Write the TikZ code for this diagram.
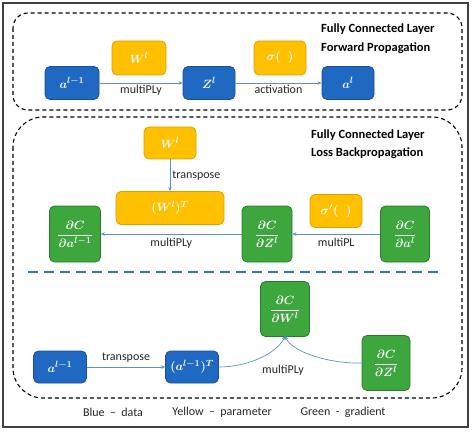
\documentclass[tikz,border=0pt]{standalone}
\usepackage{fontspec}
\usepackage{amsmath}
\setmainfont{Carlito}
\usetikzlibrary{arrows.meta}
\definecolor{bfill}{HTML}{1F69C2}
\definecolor{bdraw}{HTML}{1A4E8C}
\definecolor{yfill}{HTML}{FFC000}
\definecolor{ydraw}{HTML}{D9A200}
\definecolor{gfill}{HTML}{3DA63D}
\definecolor{gdraw}{HTML}{2B7A2B}
\definecolor{arrowc}{HTML}{5B8FD0}
\definecolor{sepc}{HTML}{2E75B6}
\definecolor{framec}{HTML}{404040}
\definecolor{txtc}{HTML}{262626}
\tikzset{
  basebox/.style={rounded corners=5pt, line width=0.8pt, text=white, inner sep=0pt, font=\fontsize{13}{15}\selectfont\boldmath},
  bluebox/.style={basebox, fill=bfill, draw=bdraw},
  yellowbox/.style={basebox, fill=yfill, draw=ydraw},
  greenbox/.style={basebox, fill=gfill, draw=gdraw},
  conn/.style={draw=arrowc, line width=0.7pt, -{Stealth[length=4pt,width=3.5pt]}},
  lbl/.style={text=txtc, font=\fontsize{12}{14}\selectfont, inner sep=1pt},
  ttl/.style={text=black, anchor=west, font=\fontsize{12.5}{15}\selectfont\bfseries, inner sep=0pt},
  dashbox/.style={draw=black, line width=1.1pt, dash pattern=on 4pt off 3pt},
}
\begin{document}
\begin{tikzpicture}[x=1pt,y=-1pt]
\useasboundingbox (0,0) rectangle (474,433);
\fill[white] (0,0) rectangle (474,433);
\draw[framec, line width=1.5pt] (3,3) rectangle (468,427);
% dashed regions
\draw[dashbox, rounded corners=15pt] (13,13) rectangle (462,110);
\draw[dashbox, rounded corners=30pt] (13,117) rectangle (462,398);
\draw[sepc, line width=2pt, dash pattern=on 10pt off 6pt] (28,272) -- (442,272);

% ---------- forward ----------
\node[ttl] (t1a) at (321,29) {Fully Connected Layer};
\node[ttl] (t1b) at (321,48) {Forward Propagation};
\node[bluebox, minimum width=54pt, minimum height=33pt] (a1) at (72,83) {$a^{l-1}$};
\node[yellowbox, minimum width=54pt, minimum height=34pt] (W1) at (139,58) {$W^{l}$};
\node[bluebox, minimum width=52pt, minimum height=33pt] (Z1) at (209,83) {$Z^{l}$};
\node[yellowbox, minimum width=52pt, minimum height=34pt] (s1) at (280,58) {$\sigma(\;\;)$};
\node[bluebox, minimum width=52pt, minimum height=33pt] (al) at (348,83) {$a^{l}$};
\draw[conn] (a1) -- (Z1) node[lbl, midway, below=1pt] (m1) {multiPLy};
\draw[conn] (Z1) -- (al) node[lbl, midway, below=1pt] (m2) {activation};

% ---------- backward ----------
\node[ttl] (t2a) at (311,135) {Fully Connected Layer};
\node[ttl] (t2b) at (311,153) {Loss Backpropagation};
\node[yellowbox, minimum width=52pt, minimum height=32pt] (W2) at (170,143) {$W^{l}$};
\node[yellowbox, minimum width=108pt, minimum height=33pt] (WT) at (170,208) {$(W^{l})^{T}$};
\node[greenbox, minimum width=51pt, minimum height=56pt] (g1) at (75,234) {$\dfrac{\partial C}{\partial a^{l-1}}$};
\node[greenbox, minimum width=50pt, minimum height=56pt] (g2) at (267,234) {$\dfrac{\partial C}{\partial Z^{l}}$};
\node[yellowbox, minimum width=52pt, minimum height=33pt] (s2) at (336,211) {$\sigma'(\;\;)$};
\node[greenbox, minimum width=49pt, minimum height=56pt] (g3) at (405,234) {$\dfrac{\partial C}{\partial a^{l}}$};
\draw[conn] (W2) -- (WT) node[lbl, midway, right=1pt] (tr1) {transpose};
\draw[conn] (g3) -- (g2) node[lbl, midway, below=3pt] (m3) {multiPL};
\draw[conn] (g2) -- (g1) node[lbl, midway, below=3pt] (m4) {multiPLy};

% ---------- gradient of W ----------
\node[greenbox, minimum width=49pt, minimum height=55pt] (gW) at (285,309) {$\dfrac{\partial C}{\partial W^{l}}$};
\node[greenbox, minimum width=48pt, minimum height=55pt] (gZ) at (386,363) {$\dfrac{\partial C}{\partial Z^{l}}$};
\node[bluebox, minimum width=53pt, minimum height=32pt] (a2) at (60,367) {$a^{l-1}$};
\node[bluebox, minimum width=53pt, minimum height=32pt] (aT) at (192,367) {$(a^{l-1})^{T}$};
\draw[conn] (a2) -- (aT) node[lbl, midway, above=3pt] (tr2) {transpose};
\coordinate (mp) at ([yshift=1pt]gW.south);
\draw[conn] (aT.east) .. controls (250,367) and (278,352) .. (mp);
\draw[conn] (gZ.west) .. controls (330,364) and (292,352) .. (mp);
\node[lbl] (m5) at (283,370) {multiPLy};

% ---------- legend ----------
\node[lbl] (lg1) at (113,412) {Blue\ \ –\ \ data};
\node[lbl] (lg2) at (222,412) {Yellow\ \ –\ \ parameter};
\node[lbl] (lg3) at (343,412) {Green\ \ -\ \ gradient};
\end{tikzpicture}
\end{document}
